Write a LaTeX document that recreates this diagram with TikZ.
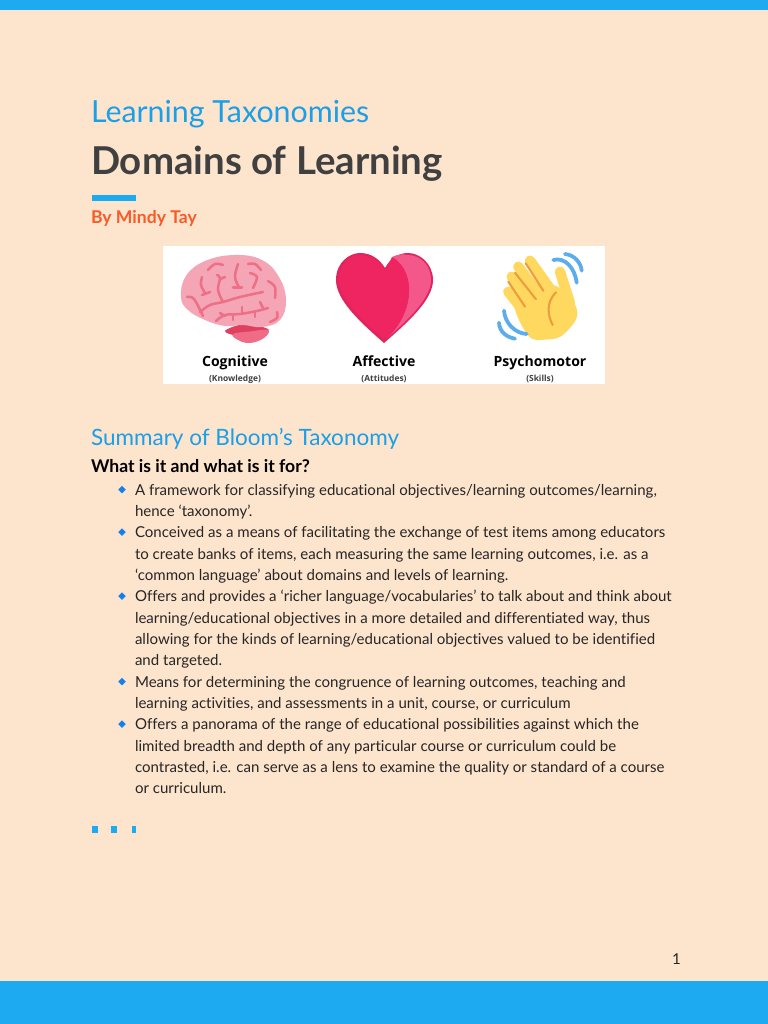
\documentclass[tikz,border=0pt]{standalone}
\usepackage{fontspec}
\setmainfont[RawFeature={-liga}]{Lato}
\newfontfamily\labelfont{Open Sans}
\usetikzlibrary{shapes.geometric}
\definecolor{peach}{HTML}{FDE4CD}
\definecolor{skyblue}{HTML}{1EAAF1}
\definecolor{titleblue}{HTML}{1A9FE8}
\definecolor{darktxt}{HTML}{404040}
\definecolor{bodytxt}{HTML}{262626}
\definecolor{orangetxt}{HTML}{FA5A28}
\definecolor{brainpink}{HTML}{F4A6B7}
\definecolor{brainline}{HTML}{EE6F86}
\definecolor{brainband}{HTML}{E0405F}
\definecolor{brainback}{HTML}{F06C86}
\definecolor{heartred}{HTML}{EE2560}
\definecolor{heartedge}{HTML}{E0245E}
\definecolor{heartlight}{HTML}{F4578A}
\definecolor{handyellow}{HTML}{FFD95F}
\definecolor{handline}{HTML}{EE9C3E}
\definecolor{waveblue}{HTML}{5DADEC}
\tikzset{
	textline/.style={anchor=base west,inner sep=0pt,outer sep=0pt},
	bodyline/.style={textline,text=bodytxt,font=\fontsize{10.7}{12}\selectfont},
	bulletmark/.style={diamond,fill=titleblue!80!blue,inner sep=0pt,minimum size=5.5pt},
	domainname/.style={anchor=base,inner sep=0pt,font=\labelfont\bfseries\fontsize{10}{12}\selectfont},
	domainsub/.style={anchor=base,inner sep=0pt,font=\labelfont\bfseries\fontsize{6}{7}\selectfont,text=darktxt},
	sulcus/.style={draw=brainline,line width=1.8pt,line cap=round,line join=round},
	fingerpart/.style={draw=handyellow,line width=7.4pt,line cap=round},
	foldline/.style={draw=handline,line width=1.5pt,line cap=round},
	waveline/.style={draw=waveblue,line width=2.7pt,line cap=round}
}
\begin{document}
\begin{tikzpicture}[x=0.025cm,y=-0.025cm]
	\useasboundingbox (0,0) rectangle (768,1024);
	\fill[peach] (0,0) rectangle (768,1024);
	\fill[skyblue] (0,0) rectangle (768,10);
	\fill[skyblue] (0,981) rectangle (768,1024);

	% heading
	\node[textline,text=titleblue,font=\fontsize{21.6}{24}\selectfont] (series) at (91,123) {Learning Taxonomies};
	\node[textline,text=darktxt,font=\bfseries\fontsize{27.3}{30}\selectfont] (heading) at (91,175) {Domains of Learning};
	\fill[skyblue] (92,195) rectangle (136,201);
	\node[textline,text=orangetxt,font=\bfseries\fontsize{12.5}{14}\selectfont] (byline) at (91,224) {By Mindy Tay};

	% picture strip
	\fill[white] (163,246) rectangle (605,384);

	% brain
	\fill[brainband] plot[smooth cycle,tension=.6] coordinates {(225,331) (245,324) (268,329) (262,333) (240,336)};
	\fill[brainback] plot[smooth cycle,tension=.7] coordinates {(233,334) (250,331.5) (268,330) (264,338) (250,343) (238,340)};
	\fill[brainpink] plot[smooth cycle,tension=.7] coordinates {(181,297) (186,276) (205,261) (235,255) (262,260) (279,277) (286,300) (280,320) (262,327) (243,325) (225,326) (205,320) (188,310)};
	\draw[sulcus] plot[smooth,tension=.6] coordinates {(263,292) (240,297) (223,302) (210,305) (200,312)};
	\draw[sulcus] plot[smooth,tension=.6] coordinates {(187,297) (194,299) (203,316)};
	\draw[sulcus] plot[smooth,tension=.6] coordinates {(217,275) (220,278) (218,290) (223,302)};
	\draw[sulcus] (225,277) -- (220,279);
	\draw[sulcus] plot[smooth,tension=.6] coordinates {(238,264) (235,277) (239,287)};
	\draw[sulcus] (233,287.5) -- (242,287.5);
	\draw[sulcus] plot[smooth,tension=.6] coordinates {(250,273) (257,277) (253,288)};
	\draw[sulcus] plot[smooth,tension=.6] coordinates {(202,277) (201,285) (205,293)};
	\draw[sulcus] (202,295) -- (210,292);
	\draw[sulcus] plot[smooth,tension=.6] coordinates {(208,270) (215,264) (223,265)};
	\draw[sulcus] plot[smooth,tension=.6] coordinates {(248,264) (255,264) (261,270)};
	\draw[sulcus] plot[smooth,tension=.6] coordinates {(268,281) (275,287) (275,298)};
	\draw[sulcus] plot[smooth,tension=.6] coordinates {(270,322) (277,318) (277,312)};
	\draw[sulcus] plot[smooth,tension=.6] coordinates {(216,321) (225,315) (240,314) (257,311) (268,308)};
	\draw[sulcus] (220,313) -- (225,316);
	\draw[sulcus] (242,307) -- (242,313);
	\draw[sulcus] (255,312) -- (255,317);
	\draw[sulcus] (260,302) -- (263,308);
	\draw[sulcus] (233,315) -- (233,320);

	% heart
	\fill[heartedge] (384,343) .. controls (360,322) and (336,300) .. (336,280) .. controls (336,262) and (350,253) .. (360,253) .. controls (372,253) and (380,260) .. (385,268) .. controls (390,259) and (398,253) .. (408,253) .. controls (420,253) and (433,264) .. (433,280) .. controls (433,300) and (408,322) .. (384,343) -- cycle;
	\fill[heartlight] (392,257) .. controls (398,254) and (403,254) .. (408,255) .. controls (420,255) and (431,265) .. (431,280) .. controls (431,298) and (408,320) .. (386,339) .. controls (402,325) and (410,305) .. (409,287) .. controls (408,273) and (402,263) .. (392,257) -- cycle;
	\fill[heartred] (384,339) .. controls (362,320) and (339,298) .. (339,280) .. controls (339,264) and (350,255) .. (360,255) .. controls (371,255) and (380,262) .. (385,270) .. controls (388,264) and (391,260) .. (392,257) .. controls (402,263) and (408,273) .. (409,287) .. controls (410,305) and (402,325) .. (384,339) -- cycle;

	% hand
	\draw[fingerpart] (508.3,291.7) -- (533.3,323.3);
	\draw[fingerpart] (511.7,276.7) -- (536.7,310);
	\draw[fingerpart] (518.3,266.7) -- (543.3,300);
	\draw[fingerpart] (530,260.7) -- (553.3,293.3);
	\draw[fingerpart] (560,271.7) -- (570,303.3);
	\fill[handyellow] plot[smooth cycle,tension=.7] coordinates {(515,295) (553,285) (577,310) (565,333) (547,339.5) (527,334)};
	\draw[foldline] (508.3,281.7) -- (525,306.7);
	\draw[foldline] (515,272.7) -- (536,299.3);
	\draw[foldline] (525.7,263.3) -- (543.3,290.7);
	\draw[foldline] (556,292.3) .. controls (545,303.3) and (548.3,316.7) .. (552.7,325);
	\draw[waveline] (565,254) .. controls (575,255) and (581,263.3) .. (581.7,270.7);
	\draw[waveline] (553.3,260) .. controls (565,256.7) and (575,268.3) .. (576.7,282.7);
	\draw[waveline] (504,310.7) .. controls (505,323.3) and (515,333.3) .. (526.7,334);
	\draw[waveline] (499,322.7) .. controls (499.3,331.7) and (506.7,337.3) .. (515,338.7);

	\node[domainname] (cognitive) at (235,366) {Cognitive};
	\node[domainsub] (knowledge) at (235,381) {(Knowledge)};
	\node[domainname] (affective) at (384,366) {Affective};
	\node[domainsub] (attitudes) at (384,381) {(Attitudes)};
	\node[domainname] (psychomotor) at (540,366) {Psychomotor};
	\node[domainsub] (skills) at (540,381) {(Skills)};

	% summary
	\node[textline,text=titleblue,font=\fontsize{16}{18}\selectfont] (summary) at (91,445) {Summary of Bloom’s Taxonomy};
	\node[textline,text=black,font=\bfseries\fontsize{12.5}{14}\selectfont] (question) at (91,472) {What is it and what is it for?};

	\node[bulletmark] (b1) at (122,489.5) {};
	\node[bulletmark] (b2) at (122,532) {};
	\node[bulletmark] (b3) at (122,596) {};
	\node[bulletmark] (b4) at (122,681.5) {};
	\node[bulletmark] (b5) at (122,724) {};

	\node[bodyline] (l1) at (135,495) {A framework for classifying educational objectives/learning outcomes/learning,};
	\node[bodyline] (l2) at (135,516) {hence ‘taxonomy’.};
	\node[bodyline] (l3) at (135,537.5) {Conceived as a means of facilitating the exchange of test items among educators};
	\node[bodyline] (l4) at (135,559) {to create banks of items, each measuring the same learning outcomes, i.e. as a};
	\node[bodyline] (l5) at (135,580) {‘common language’ about domains and levels of learning.};
	\node[bodyline] (l6) at (135,601.5) {Offers and provides a ‘richer language/vocabularies’ to talk about and think about};
	\node[bodyline] (l7) at (135,623) {learning/educational objectives in a more detailed and differentiated way, thus};
	\node[bodyline] (l8) at (135,644) {allowing for the kinds of learning/educational objectives valued to be identified};
	\node[bodyline] (l9) at (135,665.5) {and targeted.};
	\node[bodyline] (l10) at (135,687) {Means for determining the congruence of learning outcomes, teaching and};
	\node[bodyline] (l11) at (135,708.5) {learning activities, and assessments in a unit, course, or curriculum};
	\node[bodyline] (l12) at (135,729.5) {Offers a panorama of the range of educational possibilities against which the};
	\node[bodyline] (l13) at (135,751) {limited breadth and depth of any particular course or curriculum could be};
	\node[bodyline] (l14) at (135,772.5) {contrasted, i.e. can serve as a lens to examine the quality or standard of a course};
	\node[bodyline] (l15) at (135,793.5) {or curriculum.};

	\fill[skyblue] (92,826) rectangle (97.5,833);
	\fill[skyblue] (111,826) rectangle (117,833);
	\fill[skyblue] (131.5,826) rectangle (136,833);

	\node[bodyline] (pagenum) at (672,964) {1};
\end{tikzpicture}
\end{document}
